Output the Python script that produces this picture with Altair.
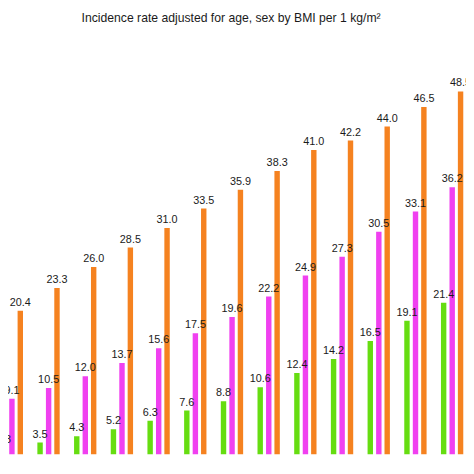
import altair as alt
import pandas as pd

groups = list(range(1, 14))
series_names = ["Series 1", "Series 2", "Series 3"]
green = [2.8, 3.5, 4.3, 5.2, 6.3, 7.6, 8.8, 10.6, 12.4, 14.2, 16.5, 19.1, 21.4]
magenta = [9.1, 10.5, 12.0, 13.7, 15.6, 17.5, 19.6, 22.2, 24.9, 27.3, 30.5, 33.1, 36.2]
orange = [20.4, 23.3, 26.0, 28.5, 31.0, 33.5, 35.9, 38.3, 41.0, 42.2, 44.0, 46.5, 48.5]
colors = ["#66dd11", "#f040f0", "#f58220"]

rows = []
for s, vals in zip(series_names, [green, magenta, orange]):
    for g, v in zip(groups, vals):
        rows.append({"group": g, "series": s, "rate": v})
df = pd.DataFrame(rows)

FONT = "Liberation Sans Narrow, Liberation Sans, sans-serif"

base = alt.Chart(df).transform_calculate(
    pos="datum.group + (datum.series === 'Series 1' ? -0.233 : (datum.series === 'Series 3' ? 0.228 : 0))"
)

x = alt.X("pos:Q", scale=alt.Scale(domain=[0.8928, 13.376], nice=False, zero=False, padding=0), axis=None)
y = alt.Y("rate:Q", scale=alt.Scale(domain=[2.015, 56.55], nice=False, zero=False, padding=0), axis=None)

bars = base.mark_bar(size=5.5, clip=True).encode(
    x=x,
    y=y,
    color=alt.Color("series:N", scale=alt.Scale(domain=series_names, range=colors), legend=None),
)

labels = base.mark_text(baseline="bottom", dy=-3, fontSize=11, font=FONT, color="#1a1a1a", clip=True).encode(
    x=x,
    y=y,
    text=alt.Text("rate:Q", format=".1f"),
)

chart = alt.layer(bars, labels).properties(
    width=466,
    height=433,
    padding=0,
    title=alt.TitleParams(
        text="Incidence rate adjusted for age, sex by BMI per 1 kg/m²",
        fontSize=12.4,
        font=FONT,
        fontWeight="normal",
        color="#1a1a1a",
        anchor="middle",
        offset=4,
        dx=-6,
    ),
).configure_view(stroke=None)

chart.save("out.html", embed_options={"renderer": "svg", "actions": False})
